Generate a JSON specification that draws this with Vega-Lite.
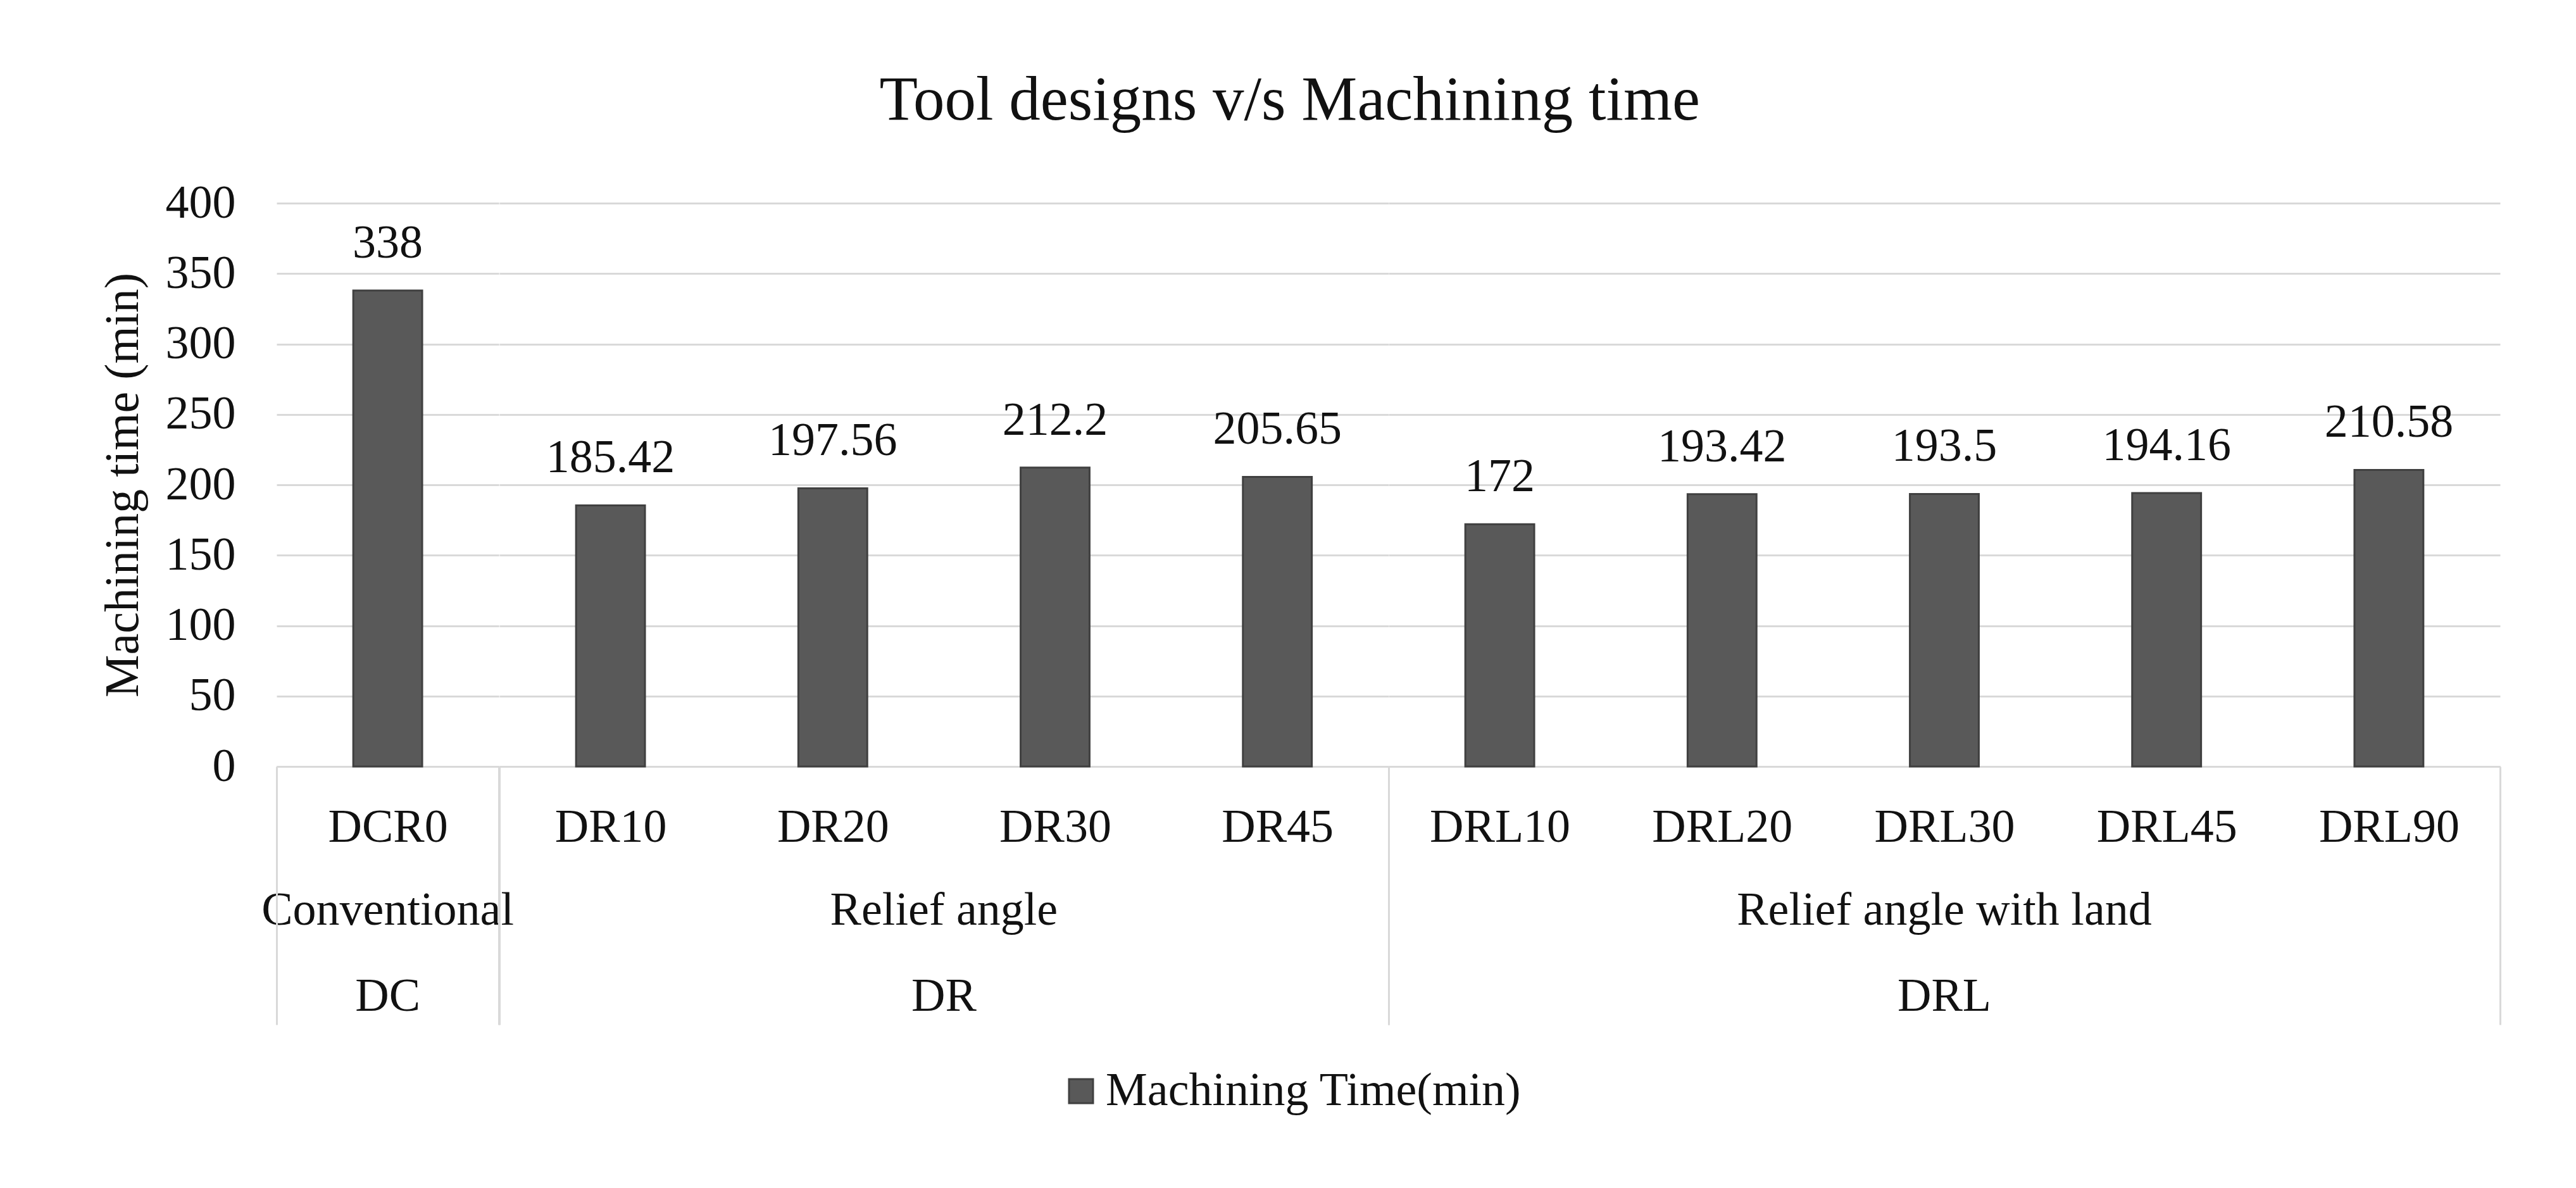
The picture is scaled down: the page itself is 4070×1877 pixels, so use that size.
{
  "$schema": "https://vega.github.io/schema/vega-lite/v6.json",
  "background": "white",
  "padding": {"left": 156, "top": 110, "right": 10, "bottom": 10},
  "bounds": "flush",
  "title": {
    "text": "Tool designs v/s Machining time",
    "font": "Liberation Serif",
    "fontSize": 99,
    "fontWeight": "normal",
    "color": "#111111",
    "anchor": "middle",
    "frame": "bounds",
    "baseline": "alphabetic",
    "offset": -4,
    "dx": -16
  },
  "data": {
    "values": [
      {"design": "DCR0", "group": "Conventional", "code": "DC", "time": 338},
      {"design": "DR10", "group": "Relief angle", "code": "DR", "time": 185.42},
      {"design": "DR20", "group": "Relief angle", "code": "DR", "time": 197.56},
      {"design": "DR30", "group": "Relief angle", "code": "DR", "time": 212.2},
      {"design": "DR45", "group": "Relief angle", "code": "DR", "time": 205.65},
      {"design": "DRL10", "group": "Relief angle with land", "code": "DRL", "time": 172},
      {"design": "DRL20", "group": "Relief angle with land", "code": "DRL", "time": 193.42},
      {"design": "DRL30", "group": "Relief angle with land", "code": "DRL", "time": 193.5},
      {"design": "DRL45", "group": "Relief angle with land", "code": "DRL", "time": 194.16},
      {"design": "DRL90", "group": "Relief angle with land", "code": "DRL", "time": 210.58}
    ]
  },
  "facet": {
    "column": {
      "field": "group",
      "type": "nominal",
      "title": null,
      "header": {
        "labelOrient": "bottom",
        "labelFont": "Liberation Serif",
        "labelFontSize": 74,
        "labelColor": "#111111",
        "labelBaseline": "alphabetic",
        "labelPadding": 250,
        "labelLineHeight": 136,
        "labelLimit": 0,
        "labelExpr": "[datum.value, datum.value == 'Conventional' ? 'DC' : (datum.value == 'Relief angle' ? 'DR' : 'DRL')]"
      }
    }
  },
  "spacing": 0,
  "resolve": {"scale": {"x": "independent"}},
  "spec": {
    "width": {"step": 351.2},
    "height": 890,
    "encoding": {
      "x": {
        "field": "design",
        "type": "nominal",
        "sort": null,
        "scale": {"paddingInner": 0.69, "paddingOuter": 0.345},
        "axis": {
          "title": null,
          "labelAngle": 0,
          "labelFont": "Liberation Serif",
          "labelFontSize": 74,
          "labelColor": "#111111",
          "labelBaseline": "alphabetic",
          "labelPadding": -290,
          "labelLimit": 0,
          "labelOffset": 121.16,
          "domainColor": "#d9d9d9",
          "domainWidth": 3,
          "bandPosition": 3.2257,
          "tickExtra": true,
          "tickOffset": -121.16,
          "tickSize": 408,
          "tickColor": "#d9d9d9",
          "tickWidth": 3,
          "tickOpacity": {
            "condition": {"test": "datum.extra || indexof(['DCR0','DR45','DRL90'], datum.value) >= 0", "value": 1},
            "value": 0
          }
        }
      },
      "y": {
        "field": "time",
        "type": "quantitative",
        "scale": {"domain": [0, 400], "nice": false},
        "axis": {
          "title": "Machining time (min)",
          "titleFont": "Liberation Serif",
          "titleFontSize": 76,
          "titleFontWeight": "normal",
          "titleColor": "#111111",
          "titlePadding": 28,
          "values": [0, 50, 100, 150, 200, 250, 300, 350, 400],
          "labelFont": "Liberation Serif",
          "labelFontSize": 74,
          "labelColor": "#111111",
          "labelPadding": 65,
          "ticks": false,
          "tickSize": 0,
          "domain": false,
          "gridColor": "#d9d9d9",
          "gridWidth": 3
        }
      }
    },
    "layer": [
      {
        "mark": {"type": "bar", "stroke": "#404040", "strokeWidth": 3},
        "encoding": {
          "color": {
            "datum": "Machining Time(min)",
            "type": "nominal",
            "scale": {"range": ["#595959"]},
            "legend": {
              "title": null,
              "orient": "none",
              "legendX": 1234,
              "legendY": 1366,
              "direction": "horizontal",
              "symbolType": "square",
              "symbolSize": 1444,
              "symbolStrokeColor": "#404040",
              "symbolStrokeWidth": 3,
              "labelFont": "Liberation Serif",
              "labelFontSize": 74,
              "labelColor": "#111111",
              "labelOffset": 2,
              "labelLimit": 0
            }
          }
        }
      },
      {
        "mark": {
          "type": "text",
          "baseline": "alphabetic",
          "dy": -52,
          "font": "Liberation Serif",
          "fontSize": 74,
          "color": "#111111"
        },
        "encoding": {
          "text": {"field": "time", "type": "nominal"}
        }
      }
    ]
  },
  "config": {
    "view": {"stroke": null}
  }
}
